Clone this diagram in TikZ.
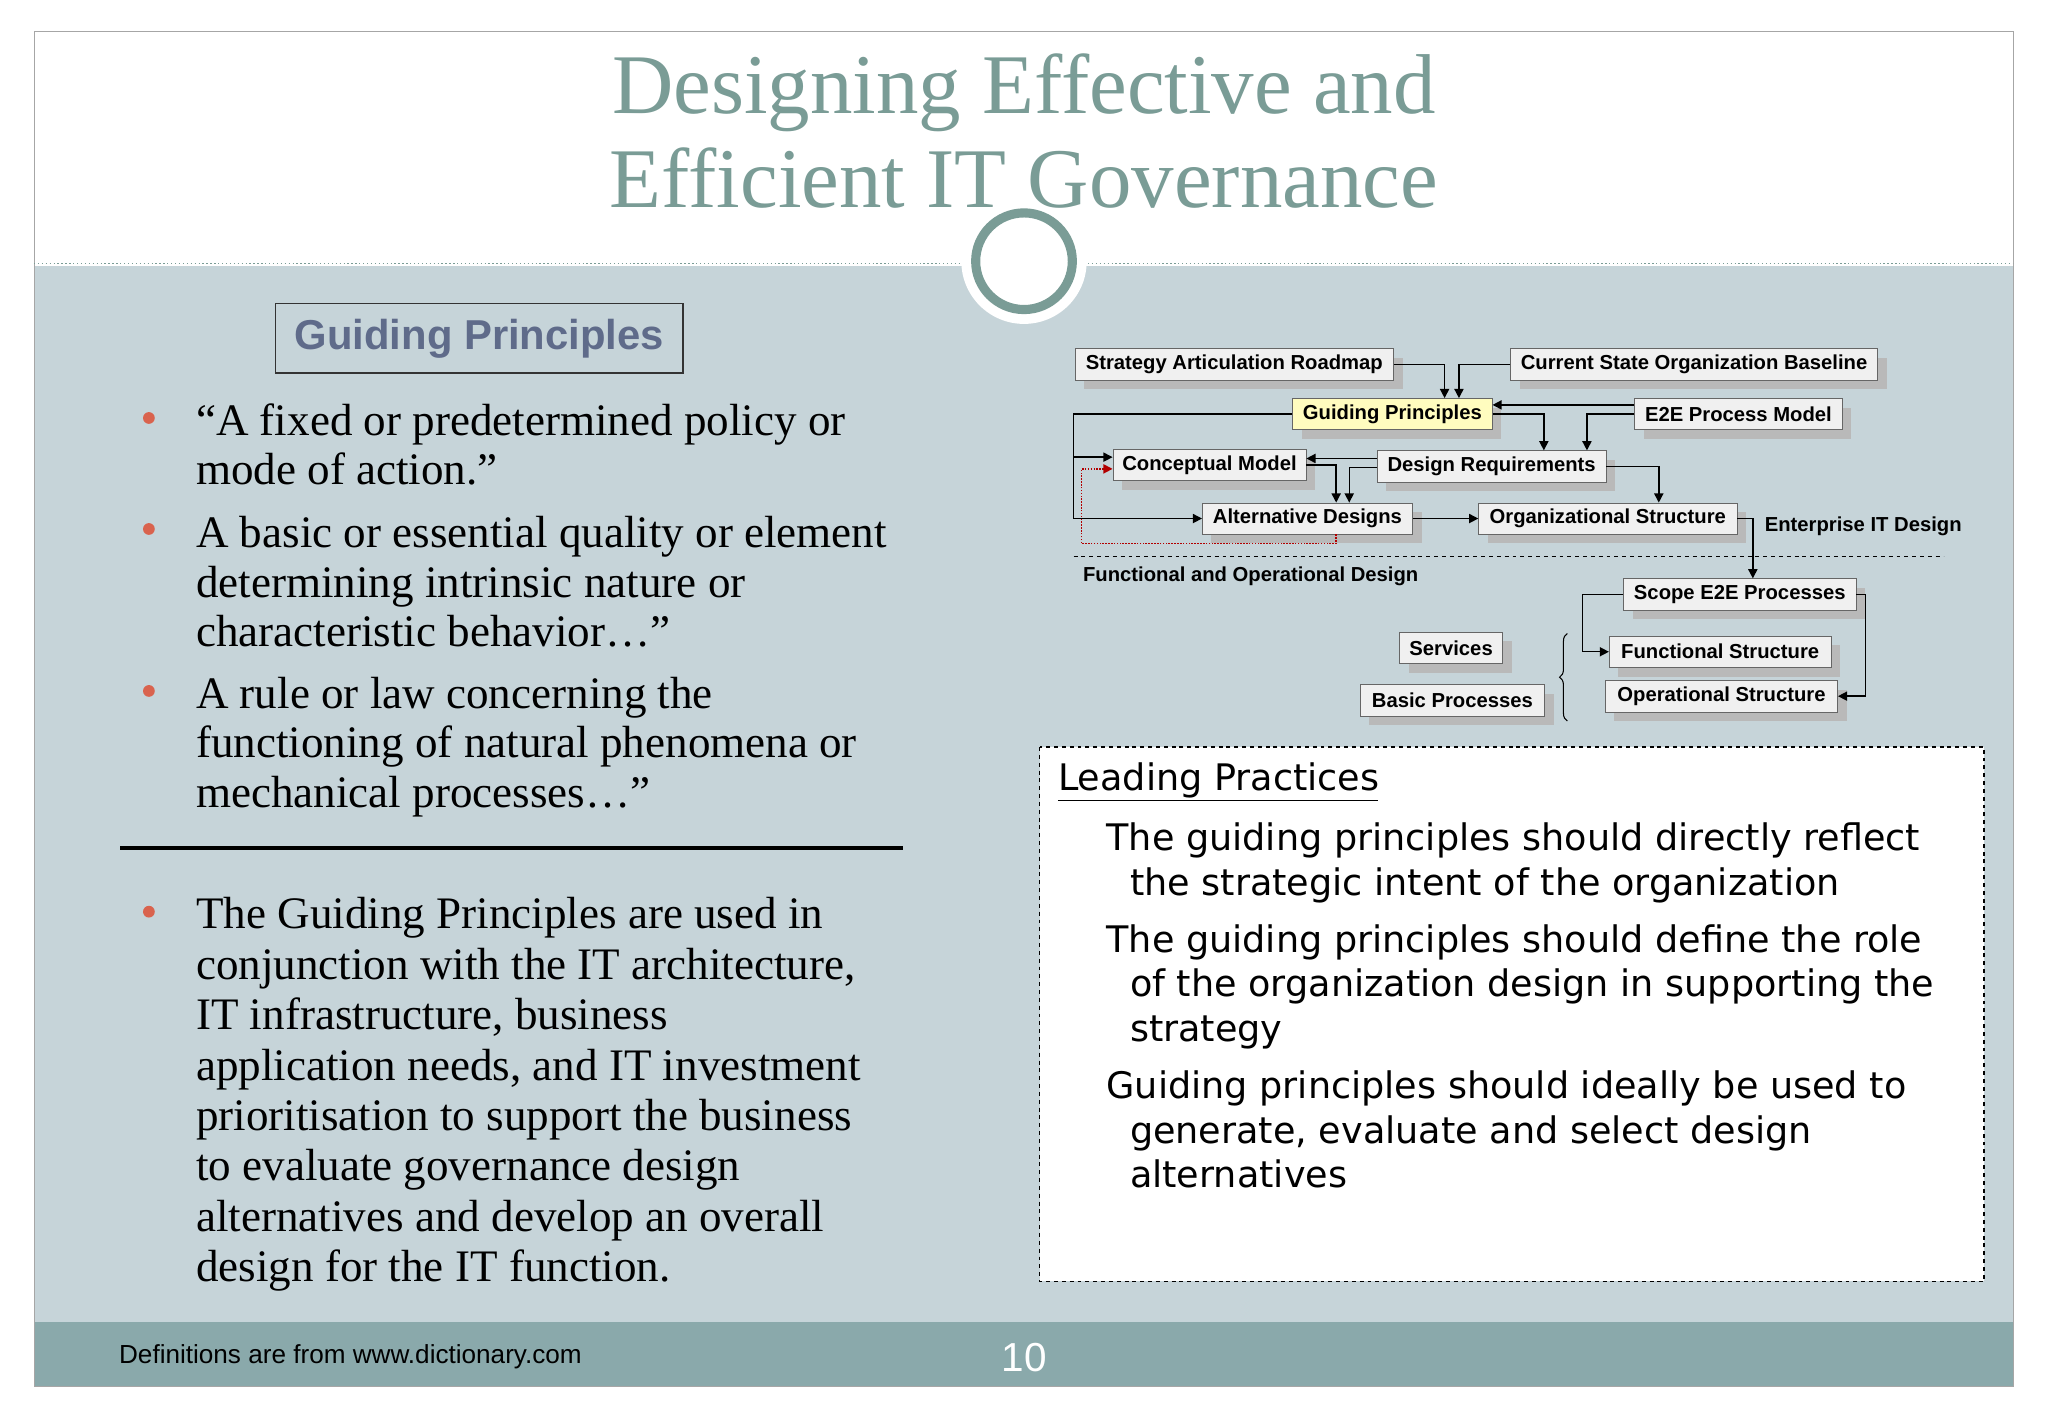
\documentclass[tikz,border=0pt]{standalone}
\usepackage{fontspec}
\setmainfont{Liberation Serif}
\setsansfont{Liberation Sans}
\newfontfamily\dvs{DejaVu Sans}
\usetikzlibrary{arrows.meta,shadows,decorations.pathreplacing}
\definecolor{ttl}{HTML}{7A9C96}
\definecolor{bgc}{HTML}{C6D4D9}
\definecolor{foot}{HTML}{8AA9AB}
\definecolor{gpc}{HTML}{5F6B8A}
\definecolor{bul}{HTML}{D9634E}
\begin{document}
\begin{tikzpicture}[x=1pt,y=-1pt,
 bx/.style={draw=black!60,fill=gray!12,inner sep=0pt,minimum height=24pt,
   font=\sffamily\bfseries\fontsize{15.5}{17}\selectfont,
   drop shadow={shadow xshift=7pt,shadow yshift=-7pt,fill=gray!55,opacity=1}},
 arr/.style={draw=black,line width=1.1pt,-{Triangle[length=7pt,width=7pt]}},
 lbl/.style={font=\sffamily\bfseries\fontsize{15.5}{17}\selectfont,inner sep=0pt},
 ser/.style={font=\fontsize{34.5}{38}\selectfont,anchor=mid west,inner sep=0pt},
 lp/.style={font=\dvs\fontsize{28}{30}\selectfont,anchor=mid west,inner sep=0pt}]
\useasboundingbox (0,0) rectangle (1568,1086);
\fill[white] (0,0) rectangle (1568,1086);
\fill[bgc] (26,204) rectangle (1541,1012);
\fill[foot] (26,1012) rectangle (1541,1061);
\draw[gray!70] (26,24) rectangle (1541,1061);
\draw[ttl,dotted,line width=1pt] (26,202) -- (1541,202);
\fill[white] (784,200) circle (48);
\draw[ttl,line width=7pt] (784,200) circle (37);
\node[font=\fontsize{65}{72}\selectfont,text=ttl,align=center] (title) at (784,100) {Designing Effective and\\Efficient IT Governance};
% guiding principles
\node[draw=black!80,line width=1pt,minimum width=312pt,minimum height=53pt,font=\sffamily\bfseries\fontsize{32}{34}\selectfont,text=gpc] (gpt) at (367,259) {Guiding Principles};
\foreach \yy in {320,405,529,698} \fill[bul] (114,\yy) circle (4.5);
\node[ser] (b1a) at (150,331) {“A fixed or predetermined policy or};
\node[ser] (b1b) at (150,369) {mode of action.”};
\node[ser] (b2a) at (150,417) {A basic or essential quality or element};
\node[ser] (b2b) at (150,455) {determining intrinsic nature or};
\node[ser] (b2c) at (150,493) {characteristic behavior…”};
\node[ser] (b3a) at (150,540) {A rule or law concerning the};
\node[ser] (b3b) at (150,578) {functioning of natural phenomena or};
\node[ser] (b3c) at (150,616) {mechanical processes…”};
\draw[line width=3pt] (92,649) -- (691,649);
\node[ser,anchor=north west,align=left,font=\fontsize{34.5}{38.6}\selectfont] (b4) at (150,687) {The Guiding Principles are used in\\conjunction with the IT architecture,\\IT infrastructure, business\\application needs, and IT investment\\prioritisation to support the business\\to evaluate governance design\\alternatives and develop an overall\\design for the IT function.};
% leading practices
\draw[fill=white,dashed,line width=1pt] (796,572) rectangle (1519,981);
\node[lp] (lph) at (810,603) {Leading Practices};
\draw[line width=1.2pt] (810,613) -- (1055,613);
\node[lp] (p1a) at (847,649) {The guiding principles should directly reflect};
\node[lp] (p1b) at (865,683) {the strategic intent of the organization};
\node[lp] (p2a) at (847,727) {The guiding principles should define the role};
\node[lp] (p2b) at (865,761) {of the organization design in supporting the};
\node[lp] (p2c) at (865,795) {strategy};
\node[lp] (p3a) at (847,839) {Guiding principles should ideally be used to};
\node[lp] (p3b) at (865,873) {generate, evaluate and select design};
\node[lp] (p3c) at (865,907) {alternatives};
% footer
\node[font=\sffamily\fontsize{20}{22}\selectfont,anchor=mid west,inner sep=0pt] (ft) at (91,1042) {Definitions are from www.dictionary.com};
\node[font=\sffamily\fontsize{31}{34}\selectfont,text=white] (pg) at (784,1039) {10};
% diagram
\node[bx,minimum width=244pt] (sar) at (945,279) {Strategy Articulation Roadmap};
\node[bx,minimum width=281pt] (csob) at (1297,279) {Current State Organization Baseline};
\node[bx,minimum width=153pt,fill=yellow!25] (gp) at (1066,317) {Guiding Principles};
\node[bx,minimum width=159pt] (e2e) at (1331,317) {E2E Process Model};
\node[bx,minimum width=148pt] (cm) at (926,356) {Conceptual Model};
\node[bx,minimum width=175pt] (dr) at (1142,357) {Design Requirements};
\node[bx,minimum width=161pt] (ad) at (1001,397) {Alternative Designs};
\node[bx,minimum width=198pt] (os) at (1231,397) {Organizational Structure};
\node[bx,minimum width=178pt] (sc) at (1332,455) {Scope E2E Processes};
\node[bx,minimum width=79pt] (sv) at (1111,496) {Services};
\node[bx,minimum width=170pt] (fs) at (1317,499) {Functional Structure};
\node[bx,minimum width=141pt] (bp) at (1112,536) {Basic Processes};
\node[bx,minimum width=178pt] (ops) at (1318,533) {Operational Structure};
\node[lbl,anchor=mid west] (eit) at (1351,405) {Enterprise IT Design};
\node[lbl,anchor=mid west] (fod) at (829,443) {Functional and Operational Design};
\draw[dashed,line width=1pt] (822,426) -- (1488,426);
\draw[arr] (sar.east) -| ([xshift=40]gp.north);
\draw[arr] (csob.west) -| ([xshift=51]gp.north);
\draw[arr] ([yshift=7]e2e.west) -- ([yshift=7]e2e.west -| gp.east);
\draw[arr] (e2e.west) -| ([xshift=73]dr.north);
\draw[arr] (gp.east) -| ([xshift=40]dr.north);
\coordinate (lt) at (822,317);
\coordinate (lb) at (822,350);
\draw[arr] (gp.west) -- (lt) |- (ad.west);
\draw[arr] (lb) -- (lb -| cm.west);
\draw[red!70!black,densely dotted,line width=1.2pt,-{Triangle[length=7pt,width=7pt]}] ([xshift=22]ad.south) -- ++(0,7) -| (828,359) -- ([yshift=-3]cm.west);
\draw[arr] (cm.east) -| ([xshift=22]ad.north);
\draw[arr] ([yshift=6]dr.west) -- ([yshift=6]dr.west -| cm.east);
\draw[arr] ([yshift=-1]dr.west) -| ([xshift=32]ad.north);
\draw[arr] (dr.east) -| ([xshift=39]os.north);
\draw[arr] (ad.east) -- (os.west);
\draw[arr] (os.east) -| ([xshift=10]sc.north);
\draw[arr] (sc.west) -- ++(-31,0) |- (fs.west);
\draw[arr] (sc.east) -- ++(7,0) |- (ops.east);
\draw[decorate,decoration={brace,amplitude=6pt},line width=0.8pt] (1200,552) -- (1200,485);
\end{tikzpicture}
\end{document}
